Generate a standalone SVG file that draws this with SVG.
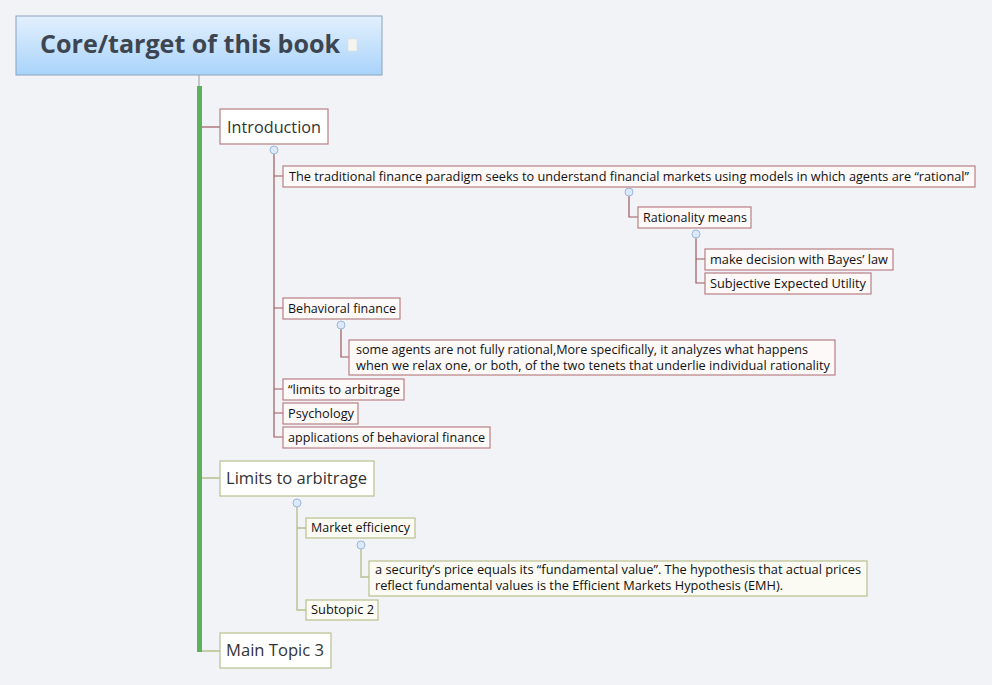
<svg xmlns="http://www.w3.org/2000/svg" width="992" height="685" viewBox="0 0 992 685">
<defs>
<linearGradient id="rg" x1="0" y1="0" x2="0" y2="1"><stop offset="0" stop-color="#e3f0fd"/><stop offset="1" stop-color="#a9d3fb"/></linearGradient>
<style>
text{font-family:"Open Sans","DejaVu Sans",sans-serif;fill:#111}
.m{font-size:17px;fill:#333}
.s{font-size:13px}
.t{font-size:12px}
.rb{fill:#fdf9f9;stroke:#b87f83;stroke-width:1.2}
.gb{fill:#fbfbf4;stroke:#b9c08f;stroke-width:1.2}
.rm{fill:#fff;stroke:#b87f83;stroke-width:1.2}
.gm{fill:#fff;stroke:#b9c08f;stroke-width:1.2}
.rl{stroke:#9b5a5e;stroke-width:1.2;fill:none}
.gl{stroke:#b9c08f;stroke-width:1.4;fill:none}
.c{fill:#dce9fb;stroke:#9ab7dd;stroke-width:1}
</style>
</defs>
<rect width="992" height="685" fill="#f2f3f7"/>
<g id="connectors">
<line x1="199" y1="75" x2="199" y2="87" stroke="#999" stroke-width="1"/>
<line x1="199.5" y1="86" x2="199.5" y2="652" stroke="#5cb25c" stroke-width="5"/>
<path class="rl" d="M202 127H220"/>
<path class="rl" d="M274 154V437H283M274 176H283M274 308H283M274 389H283M274 413H283"/>
<path class="rl" d="M629 196V217H638M696 238V283H705M696 259H705M341 329V357H349"/>
<path class="gl" d="M202 478H220M202 651H220"/>
<path class="gl" d="M297 507V610H306M297 528H306M361 549V577H369"/>
<circle class="c" cx="274" cy="150" r="4"/><circle class="c" cx="629" cy="192" r="4"/>
<circle class="c" cx="696" cy="234" r="4"/><circle class="c" cx="341" cy="325" r="4"/>
<circle class="c" cx="297" cy="503" r="4"/><circle class="c" cx="361" cy="545" r="4"/>
</g>
<g id="root"><rect x="16" y="16" width="366" height="59" fill="url(#rg)" stroke="#8aa3bd"/>
<text x="40" y="53" textLength="300" lengthAdjust="spacingAndGlyphs" style="font-size:25px;font-weight:bold;fill:#3c4550">Core/target of this book</text>
<rect x="348" y="39" width="9" height="12" fill="#f4f4f0" stroke="#ddd" stroke-width="0.6"/></g>
<g id="intro"><rect class="rm" x="220" y="109" width="108" height="35"/><text class="m" x="227" y="133" textLength="94" lengthAdjust="spacingAndGlyphs">Introduction</text></g>
<g id="trad"><rect class="rb" x="283" y="166" width="692" height="21"/><text class="s" x="289" y="181" textLength="680" lengthAdjust="spacingAndGlyphs">The traditional finance paradigm seeks to understand financial markets using models in which agents are “rational”</text></g>
<g id="rat"><rect class="rb" x="638" y="207" width="113" height="21"/><text class="s" x="643" y="222" textLength="104" lengthAdjust="spacingAndGlyphs">Rationality means</text></g>
<g id="bayes"><rect class="rb" x="705" y="249" width="188" height="21"/><text class="s" x="710" y="264" textLength="178" lengthAdjust="spacingAndGlyphs">make decision with Bayes’ law</text></g>
<g id="seu"><rect class="rb" x="705" y="273" width="166" height="21"/><text class="s" x="710" y="288" textLength="156" lengthAdjust="spacingAndGlyphs">Subjective Expected Utility</text></g>
<g id="bf"><rect class="rb" x="283" y="298" width="117" height="21"/><text class="s" x="288" y="313" textLength="108" lengthAdjust="spacingAndGlyphs">Behavioral finance</text></g>
<g id="some"><rect class="rb" x="349" y="340" width="486" height="35"/><text class="t" x="356" y="354" textLength="452" lengthAdjust="spacingAndGlyphs">some agents are not fully rational,More specifically, it analyzes what happens</text><text class="t" x="356" y="370" textLength="474" lengthAdjust="spacingAndGlyphs">when we relax one, or both, of the two tenets that underlie individual rationality</text></g>
<g id="lim"><rect class="rb" x="283" y="379" width="121" height="21"/><text class="s" x="288" y="394" textLength="112" lengthAdjust="spacingAndGlyphs">“limits to arbitrage</text></g>
<g id="psy"><rect class="rb" x="283" y="403" width="75" height="21"/><text class="s" x="288" y="418" textLength="66" lengthAdjust="spacingAndGlyphs">Psychology</text></g>
<g id="app"><rect class="rb" x="283" y="427" width="207" height="21"/><text class="s" x="288" y="442" textLength="197" lengthAdjust="spacingAndGlyphs">applications of behavioral finance</text></g>
<g id="limits"><rect class="gm" x="220" y="461" width="154" height="35"/><text class="m" x="226" y="484" textLength="141" lengthAdjust="spacingAndGlyphs">Limits to arbitrage</text></g>
<g id="me"><rect class="gb" x="306" y="518" width="109" height="20"/><text class="s" x="311" y="532" textLength="99" lengthAdjust="spacingAndGlyphs">Market efficiency</text></g>
<g id="sec"><rect class="gb" x="369" y="561" width="498" height="35"/><text class="t" x="375" y="574" textLength="486" lengthAdjust="spacingAndGlyphs">a security’s price equals its “fundamental value”. The hypothesis that actual prices</text><text class="t" x="375" y="590" textLength="408" lengthAdjust="spacingAndGlyphs">reflect fundamental values is the Efficient Markets Hypothesis (EMH).</text></g>
<g id="sub2"><rect class="gb" x="306" y="600" width="72" height="20"/><text class="s" x="311" y="614" textLength="63" lengthAdjust="spacingAndGlyphs">Subtopic 2</text></g>
<g id="mt3"><rect class="gm" x="220" y="633" width="111" height="35"/><text class="m" x="226" y="656" textLength="98" lengthAdjust="spacingAndGlyphs">Main Topic 3</text></g>
</svg>
